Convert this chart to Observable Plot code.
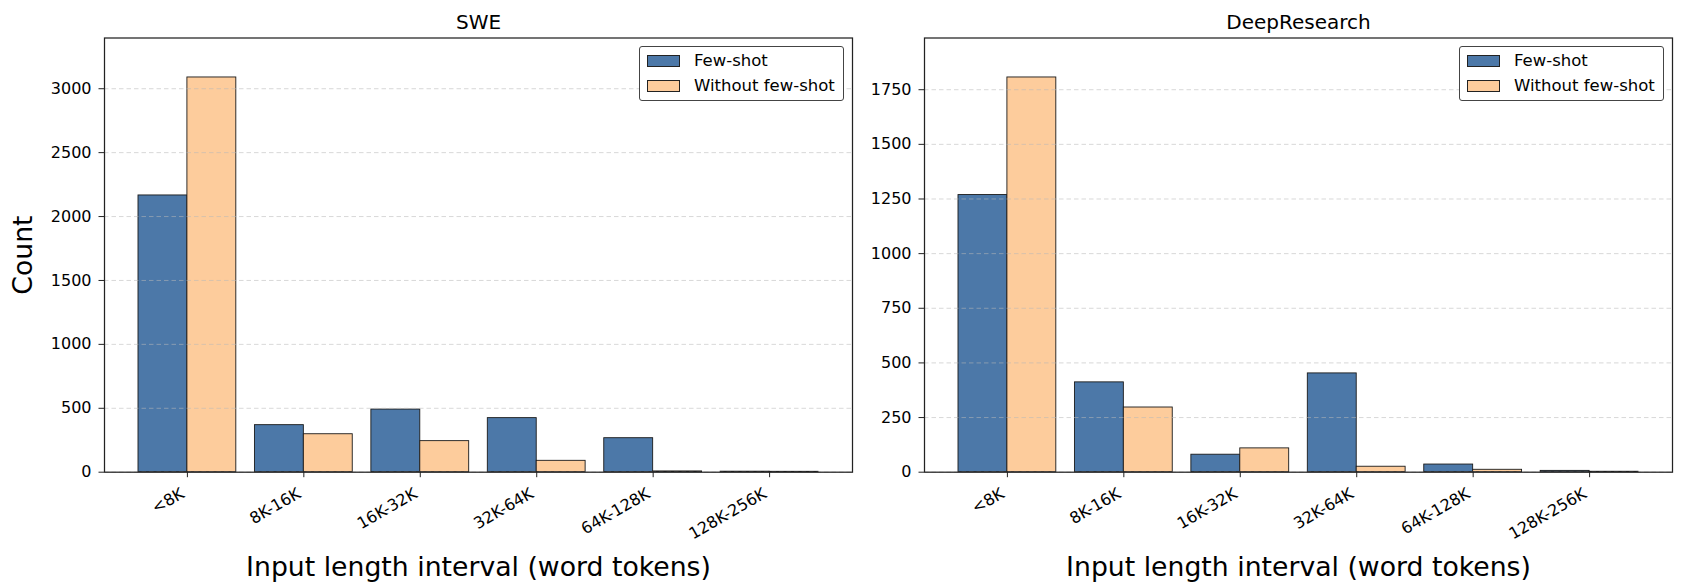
<!DOCTYPE html>
<html>
<head>
<meta charset="utf-8">
<script src="https://cdn.jsdelivr.net/npm/d3@7"></script>
<script src="https://cdn.jsdelivr.net/npm/@observablehq/plot@0.6"></script>
<style>
  html, body { margin: 0; padding: 0; background: #fff; }
  #fig { position: relative; width: 1684px; height: 583px; font-family: "DejaVu Sans", sans-serif; overflow: hidden; }
  .panel { position: absolute; top: 0; }
  .legend { position: absolute; border: 1px solid #444; border-radius: 3px; background: #fff; box-sizing: border-box; font-size: 16.5px; color: #000; }
  .legend .row { position: absolute; left: 0; height: 20px; display: flex; align-items: center; white-space: nowrap; }
  .legend .sw { width: 33px; height: 12px; border: 1px solid #222; box-sizing: border-box; margin-left: 7px; margin-right: 14px; }
</style>
</head>
<body>
<div id="fig"></div>
<script>
// ---- data ----
const categories = ["<8K", "8K-16K", "16K-32K", "32K-64K", "64K-128K", "128K-256K"];
const seriesNames = ["Few-shot", "Without few-shot"];
const seriesColors = ["#4c78a8", "#fdcc9c"];

const sweFewShot = [2165, 368, 490, 423, 266, 4];
const sweWithout = [3088, 297, 243, 89, 6, 3];
const sweTicks = [0, 500, 1000, 1500, 2000, 2500, 3000];

const drFewShot = [1268, 411, 80, 452, 35, 6];
const drWithout = [1806, 296, 109, 25, 11, 2];
const drTicks = [0, 250, 500, 750, 1000, 1250, 1500, 1750];

const xLabel = "Input length interval (word tokens)";
const yLabel = "Count";

// ---- layout ----
const BAR_W = 0.42;
const FRAME_TOP = 37.5;
const FRAME_BOTTOM = 471.7;
const H = 583;

function makePanel({title, few, without, ticks, showY, left, width, ml, mr}) {
  const rows = categories.flatMap((c, i) => [
    {i, cat: c, series: seriesNames[0], value: few[i]},
    {i, cat: c, series: seriesNames[1], value: without[i]}
  ]);
  const n = categories.length;
  const span = (n - 1) + 2 * BAR_W;
  const lo = -BAR_W - 0.05 * span;
  const hi = (n - 1) + BAR_W + 0.05 * span;
  const ymax = 1.1 * d3.max(rows, d => d.value);

  const marks = [
    Plot.rect(rows, {
      x1: d => d.i + (d.series === seriesNames[0] ? -BAR_W : 0),
      x2: d => d.i + (d.series === seriesNames[0] ? 0 : BAR_W),
      y1: 0,
      y2: "value",
      fill: "series",
      stroke: "#1a1a1a",
      strokeWidth: 0.9
    }),
    Plot.gridY(ticks, {stroke: "#b8b8b8", strokeOpacity: 0.55, strokeDasharray: "4.5,3", strokeWidth: 1}),
    Plot.frame({stroke: "#222", strokeWidth: 1.25}),
    Plot.axisY({ticks, tickSize: 5.5, tickPadding: 7.5, fontSize: 16, label: null, stroke: "#222", tickFormat: d => `${d}`}),
    Plot.axisX({ticks: d3.range(n), tickSize: 5.5, tickFormat: () => "", label: null, stroke: "#222"}),
    Plot.text(categories, {x: (d, i) => i, frameAnchor: "bottom", rotate: -30, textAnchor: "end", lineAnchor: "middle", dx: -4.6, dy: 20, fontSize: 16, fill: "#000"}),
    Plot.text([title], {frameAnchor: "top", lineAnchor: "middle", textAnchor: "middle", dy: -15, fontSize: 20, fill: "#000"}),
    Plot.text([xLabel], {frameAnchor: "bottom", lineAnchor: "middle", textAnchor: "middle", dy: 95, fontSize: 26.7, fill: "#000"})
  ];
  if (showY) {
    marks.push(Plot.text([yLabel], {frameAnchor: "left", rotate: -90, textAnchor: "middle", lineAnchor: "middle", dx: -81, fontSize: 26.7, fill: "#000"}));
  }

  const chart = Plot.plot({
    width,
    height: H,
    marginLeft: ml,
    marginRight: mr,
    marginTop: FRAME_TOP,
    marginBottom: H - FRAME_BOTTOM,
    style: {fontFamily: "DejaVu Sans, sans-serif", background: "transparent", overflow: "visible", color: "#000"},
    x: {type: "linear", domain: [lo, hi], axis: null},
    y: {domain: [0, ymax], axis: null},
    color: {domain: seriesNames, range: seriesColors},
    marks
  });
  const wrap = document.createElement("div");
  wrap.className = "panel";
  wrap.style.left = left + "px";
  wrap.appendChild(chart);
  document.getElementById("fig").appendChild(wrap);

  // legend (upper right inside frame)
  const frameRight = left + width - mr;
  const lg = document.createElement("div");
  lg.className = "legend";
  const lgW = 205, lgH = 55;
  lg.style.left = (frameRight - 8 - lgW) + "px";
  lg.style.top = (FRAME_TOP + 8) + "px";
  lg.style.width = lgW + "px";
  lg.style.height = lgH + "px";
  seriesNames.forEach((s, k) => {
    const row = document.createElement("div");
    row.className = "row";
    row.style.top = (4 + k * 25) + "px";
    const sw = document.createElement("div");
    sw.className = "sw";
    sw.style.background = seriesColors[k];
    const tx = document.createElement("span");
    tx.textContent = s;
    row.appendChild(sw);
    row.appendChild(tx);
    lg.appendChild(row);
  });
  document.getElementById("fig").appendChild(lg);
}

makePanel({title: "SWE", few: sweFewShot, without: sweWithout, ticks: sweTicks, showY: true, left: 0, width: 862, ml: 104, mr: 10});
makePanel({title: "DeepResearch", few: drFewShot, without: drWithout, ticks: drTicks, showY: false, left: 862, width: 822, ml: 62, mr: 12});
</script>
</body>
</html>
